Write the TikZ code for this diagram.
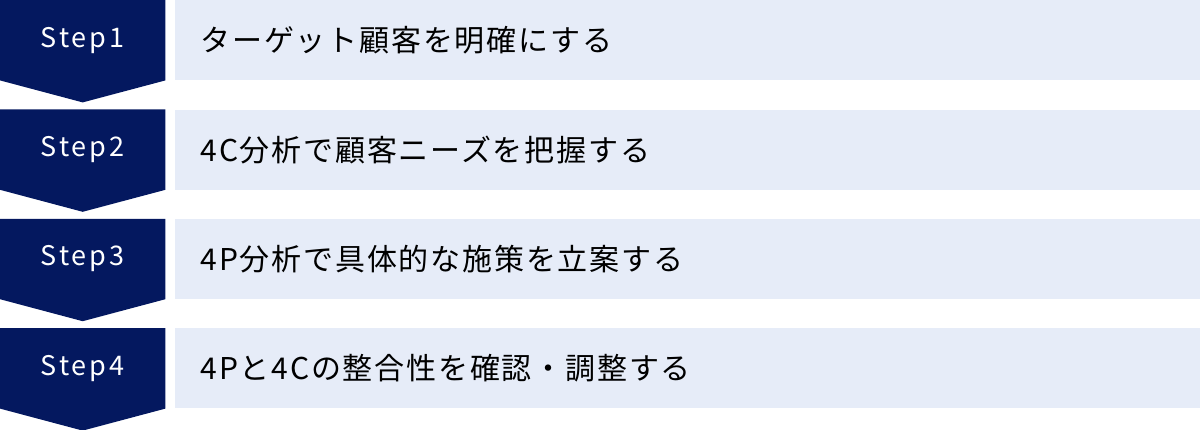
\documentclass[tikz,border=0pt]{standalone}
\usepackage{fontspec}
\setmainfont{Noto Sans CJK JP}
\usetikzlibrary{positioning, backgrounds}

\definecolor{stepnavy}{HTML}{04185F}
\definecolor{rowbg}{HTML}{E6ECF8}

\newcommand{\steplabelfont}{\fontsize{27}{30}\selectfont\addfontfeatures{LetterSpace=11}}
\newcommand{\rowtextfont}{\fontsize{30}{34}\selectfont\addfontfeatures{LetterSpace=6}}

\tikzset{
  stepbox/.style = {text=white, minimum width=165pt, minimum height=80pt,
                    inner sep=0pt, font=\steplabelfont},
  rowbox/.style  = {fill=rowbg, text=black, text width=974pt, inner xsep=26pt, inner ysep=0pt,
                    minimum height=80pt, align=left, font=\rowtextfont},
  stepshape/.style = {fill=stepnavy}
}

\begin{document}
\begin{tikzpicture}[node distance = 29pt]
	\useasboundingbox (0,0) rectangle (1200pt,-429pt);
	\node[stepbox, anchor=north west] at (0,0) (step1) {Step1};
	\node[stepbox, below = of step1] (step2) {Step2};
	\node[stepbox, below = of step2] (step3) {Step3};
	\node[stepbox, below = of step3] (step4) {Step4};
	
	\node[rowbox, right = 9pt of step1] (row1) {ターゲット顧客を明確にする};
	\node[rowbox, right = 9pt of step2] (row2) {4C分析で顧客ニーズを把握する};
	\node[rowbox, right = 9pt of step3] (row3) {4P分析で具体的な施策を立案する};
	\node[rowbox, right = 9pt of step4] (row4) {4Pと4Cの整合性を確認・調整する};
	
	\begin{scope}[on background layer]
	\fill[stepshape] (step1.north west) -- (step1.north east) -- (step1.south east) -- ([yshift=-22pt]step1.south) -- (step1.south west) -- cycle;
	\fill[stepshape] (step2.north west) -- (step2.north east) -- (step2.south east) -- ([yshift=-22pt]step2.south) -- (step2.south west) -- cycle;
	\fill[stepshape] (step3.north west) -- (step3.north east) -- (step3.south east) -- ([yshift=-22pt]step3.south) -- (step3.south west) -- cycle;
	\fill[stepshape] (step4.north west) -- (step4.north east) -- (step4.south east) -- ([yshift=-22pt]step4.south) -- (step4.south west) -- cycle;
	\end{scope}
\end{tikzpicture}
\end{document}
